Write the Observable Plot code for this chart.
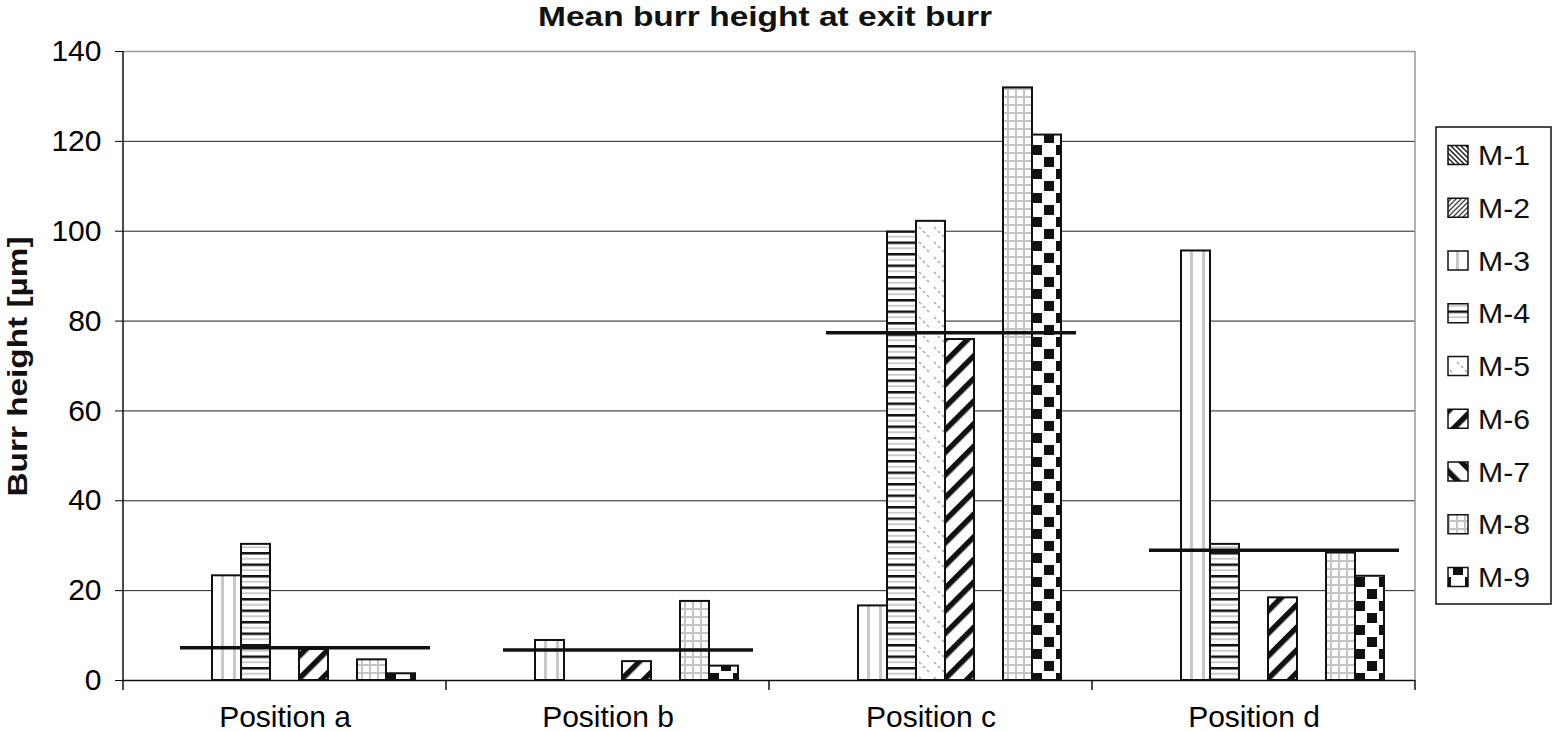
<!DOCTYPE html>
<html><head><meta charset="utf-8">
<script src="https://cdn.jsdelivr.net/npm/d3@7"></script>
<script src="https://cdn.jsdelivr.net/npm/@observablehq/plot@0.6"></script>
<style>
body{margin:0;background:#fff;font-family:"Liberation Sans",Arial,sans-serif;}
</style></head><body><div id="chart"></div>
<script>
// ---- data ----
const chartTitle = "Mean burr height at exit burr";
const yLabel = "Burr height [µm]";
const positions = ["Position a", "Position b", "Position c", "Position d"];
const series = ["M-1", "M-2", "M-3", "M-4", "M-5", "M-6", "M-7", "M-8", "M-9"];
const m1 = [null, null, null, null];
const m2 = [null, null, null, null];
const m3 = [23.3, 8.9, 16.6, 95.6];
const m4 = [30.3, null, 99.8, 30.3];
const m5 = [null, null, 102.2, null];
const m6 = [6.9, 4.2, 75.9, 18.4];
const m7 = [null, null, null, null];
const m8 = [4.6, 17.6, 131.9, 28.4];
const m9 = [1.5, 3.2, 121.4, 23.2];
const meanValues = [7.3, 6.8, 77.4, 29.0];
const yTicks = [0, 20, 40, 60, 80, 100, 120, 140];
const gridTicks = [20, 40, 60, 80, 100, 120];

const seriesValues = [m1, m2, m3, m4, m5, m6, m7, m8, m9];
const rows = [];
series.forEach((s, j) => seriesValues[j].forEach((v, i) => {
  if (v != null) rows.push({pos: positions[i], series: s, value: v});
}));
const means = positions.map((p, i) => ({pos: positions[i], mean: meanValues[i]}));
const patternUrls = series.map((s, j) => `url(#pat-${j})`);

const W = 1556, H = 732;
const mL = 122, mR = 140, mT = 51, mB = 52;

const plot = Plot.plot({
  width: W, height: H,
  marginLeft: mL, marginRight: mR, marginTop: mT, marginBottom: mB,
  style: {fontFamily: "'Liberation Sans', Arial, sans-serif", color: "#000", background: "#fff"},
  fx: {domain: positions, padding: 0, axis: null},
  x: {domain: series, paddingInner: 0, paddingOuter: 0.93, axis: null},
  y: {domain: [0, 140], axis: null},
  color: {type: "ordinal", domain: series, range: patternUrls},
  marks: [
    Plot.gridY(gridTicks, {stroke: "#222", strokeOpacity: 1, strokeWidth: 1}),
    Plot.ruleY([140], {stroke: "#999", strokeWidth: 1.5}),
    Plot.barY(rows, {fx: "pos", x: "series", y: "value", fill: "series", stroke: "#111", strokeWidth: 2}),
    Plot.ruleY([0], {stroke: "#111", strokeWidth: 1.5}),
    Plot.ruleY(means, {fx: "pos", y: "mean", x1: () => "M-2", x2: () => "M-9", insetLeft: -3, insetRight: -15, stroke: "#111", strokeWidth: 3.5}),
    Plot.axisY({ticks: yTicks, tickSize: 8, tickPadding: 14, fontSize: 30, label: null}),
    Plot.axisFx({anchor: "bottom", tickSize: 0, tickPadding: 25, fontSize: 30, label: null})
  ]
});

const svg = d3.select(plot);
// patterns
const defs = svg.insert("defs", ":first-child");
function pat(id, w, h, transform) {
  const p = defs.append("pattern").attr("id", id).attr("patternUnits", "userSpaceOnUse")
    .attr("width", w).attr("height", h);
  if (transform) p.attr("patternTransform", transform);
  p.append("rect").attr("width", w).attr("height", h).attr("fill", "#fff");
  return p;
}
let p;
p = pat("pat-0", 5, 5);
p.append("path").attr("d", "M0,0L5,5M-1,4L1,6M4,-1L6,1").attr("stroke", "#222").attr("stroke-width", 1.5);
p = pat("pat-1", 5, 5);
p.append("path").attr("d", "M0,5L5,0M-1,1L1,-1M4,6L6,4").attr("stroke", "#444").attr("stroke-width", 1.4);
p = pat("pat-2", 12, 4);
p.append("rect").attr("x", 4).attr("width", 3).attr("height", 4).attr("fill", "#c8c8c8");
p = pat("pat-3", 4, 11.5);
p.append("rect").attr("y", 0).attr("width", 4).attr("height", 2.5).attr("fill", "#111");
p.append("rect").attr("y", 6).attr("width", 4).attr("height", 1.5).attr("fill", "#bdbdbd");
p = pat("pat-4", 15, 15);
p.append("path").attr("d", "M2,2L4,4M6,6L8,8M10,10L12,12").attr("stroke", "#aaa").attr("stroke-width", 1.5);
p = pat("pat-5", 16, 16, "rotate(45)");
p.append("rect").attr("width", 5.5).attr("height", 16).attr("fill", "#111");
p = pat("pat-6", 16, 16, "rotate(-45)");
p.append("rect").attr("width", 5.5).attr("height", 16).attr("fill", "#111");
p = pat("pat-7", 8, 8);
p.append("rect").attr("width", 2).attr("height", 8).attr("fill", "#c4c4c4");
p.append("rect").attr("width", 8).attr("height", 2).attr("fill", "#c4c4c4");
p = pat("pat-8", 24, 24);
p.append("rect").attr("x", 1).attr("y", 1).attr("width", 10).attr("height", 10).attr("fill", "#111");
p.append("rect").attr("x", 13).attr("y", 13).attr("width", 10).attr("height", 10).attr("fill", "#111");

// axis lines and category boundary ticks from the library's scales
const fxs = plot.scale("fx"), ys = plot.scale("y");
const y0 = ys.apply(0), yTop = ys.apply(140);
const left = fxs.apply(positions[0]);
const right = fxs.apply(positions[positions.length - 1]) + fxs.bandwidth;
const deco = svg.append("g");
deco.append("line").attr("x1", right).attr("x2", right).attr("y1", yTop).attr("y2", y0)
  .attr("stroke", "#999").attr("stroke-width", 1.5);
deco.append("line").attr("x1", left).attr("x2", left).attr("y1", yTop).attr("y2", y0)
  .attr("stroke", "#111").attr("stroke-width", 1.5);
const bounds = positions.map(p => fxs.apply(p)).concat([right]);
bounds.forEach(b => deco.append("line").attr("x1", b).attr("x2", b).attr("y1", y0).attr("y2", y0 + 10)
  .attr("stroke", "#111").attr("stroke-width", 1.5));

// title and y label
svg.append("text").attr("x", (left + right) / 2 - 4).attr("y", 26)
  .attr("text-anchor", "middle").attr("font-weight", "bold").attr("font-size", 27)
  .attr("textLength", 454).attr("lengthAdjust", "spacingAndGlyphs").attr("fill", "#111")
  .text(chartTitle);
svg.append("text").attr("transform", `translate(27,${(yTop + y0) / 2 + 1}) rotate(-90)`)
  .attr("text-anchor", "middle").attr("font-weight", "bold").attr("font-size", 28)
  .attr("textLength", 260).attr("lengthAdjust", "spacingAndGlyphs").attr("fill", "#111")
  .text(yLabel);

// legend
const lg = svg.append("g");
const lx = right + 21, ly = 127, lw = 115, lh = 477, step = 52.75;
lg.append("rect").attr("x", lx).attr("y", ly).attr("width", lw).attr("height", lh)
  .attr("fill", "#fff").attr("stroke", "#111").attr("stroke-width", 1.5);
series.forEach((s, j) => {
  const cy = ly + 28 + j * step;
  lg.append("rect").attr("x", lx + 12).attr("y", cy - 9.5).attr("width", 20).attr("height", 19)
    .attr("fill", patternUrls[j]).attr("stroke", "#111").attr("stroke-width", 1.5);
  lg.append("text").attr("x", lx + 42).attr("y", cy + 10).attr("font-size", 28)
    .attr("text-anchor", "start")
    .attr("textLength", 52).attr("lengthAdjust", "spacingAndGlyphs").attr("fill", "#111").text(s);
});

document.getElementById("chart").appendChild(plot);
</script></body></html>
